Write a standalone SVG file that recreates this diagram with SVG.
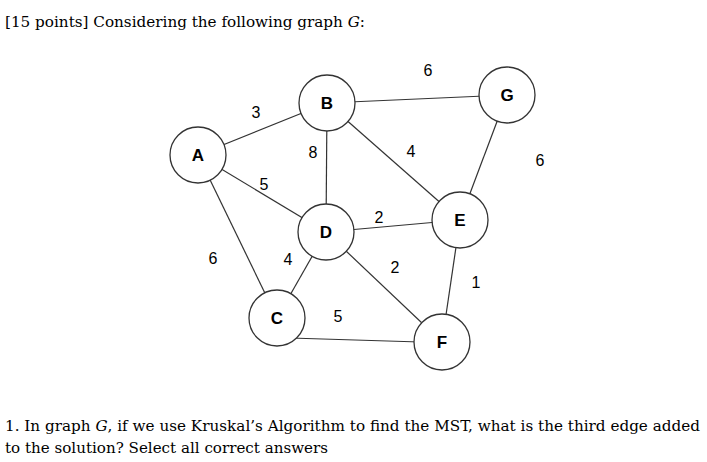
<svg xmlns="http://www.w3.org/2000/svg" width="707" height="462" viewBox="0 0 707 462">
<style>
.t{font-family:"DejaVu Serif","Liberation Serif",serif;font-size:15px;fill:#000}
.n circle{fill:#fff;stroke:#333;stroke-width:1.3}
.n text{font-family:"Liberation Sans",Arial,sans-serif;font-weight:bold;font-size:17px;text-anchor:middle;fill:#000}
.e line{stroke:#333;stroke-width:1.2}
.w{font-family:"Liberation Sans",Arial,sans-serif;font-size:16px;text-anchor:middle;fill:#000}
</style>
<rect width="707" height="462" fill="#fff"/>
<text class="t" x="5" y="27" textLength="360" lengthAdjust="spacingAndGlyphs">[15 points] Considering the following graph <tspan font-style="italic">G</tspan>:</text>
<g id="edges" class="e">
<line x1="198" y1="155" x2="327" y2="103"/>
<line x1="198" y1="155" x2="326" y2="232"/>
<line x1="198" y1="155" x2="277" y2="318"/>
<line x1="327" y1="103" x2="507" y2="95"/>
<line x1="327" y1="103" x2="326" y2="232"/>
<line x1="327" y1="103" x2="460" y2="220"/>
<line x1="507" y1="95" x2="460" y2="220"/>
<line x1="326" y1="232" x2="460" y2="220"/>
<line x1="326" y1="232" x2="277" y2="318"/>
<line x1="326" y1="232" x2="442" y2="342"/>
<line x1="460" y1="220" x2="442" y2="342"/>
<line x1="290" y1="338" x2="420" y2="342"/>
</g>
<g id="weights" class="w">
<text x="428" y="76">6</text>
<text x="256" y="118">3</text>
<text x="313" y="158">8</text>
<text x="411" y="157">4</text>
<text x="540" y="166">6</text>
<text x="264" y="190">5</text>
<text x="379" y="223">2</text>
<text x="213" y="264">6</text>
<text x="288" y="265">4</text>
<text x="395" y="273">2</text>
<text x="476" y="288">1</text>
<text x="338" y="322">5</text>
</g>
<g id="A" class="n"><circle cx="198" cy="155" r="28"/><text x="198" y="161">A</text></g>
<g id="B" class="n"><circle cx="327" cy="103" r="28"/><text x="327" y="109">B</text></g>
<g id="G" class="n"><circle cx="507" cy="95" r="28"/><text x="507" y="101">G</text></g>
<g id="D" class="n"><circle cx="326" cy="232" r="28"/><text x="326" y="238">D</text></g>
<g id="E" class="n"><circle cx="460" cy="220" r="28"/><text x="460" y="226">E</text></g>
<g id="C" class="n"><circle cx="277" cy="318" r="28"/><text x="277" y="324">C</text></g>
<g id="F" class="n"><circle cx="442" cy="342" r="28"/><text x="442" y="348">F</text></g>
<text class="t" x="5" y="431" textLength="695" lengthAdjust="spacingAndGlyphs">1. In graph <tspan font-style="italic">G</tspan>, if we use Kruskal’s Algorithm to find the MST, what is the third edge added</text>
<text class="t" x="5" y="453" textLength="323" lengthAdjust="spacingAndGlyphs">to the solution? Select all correct answers</text>
</svg>
